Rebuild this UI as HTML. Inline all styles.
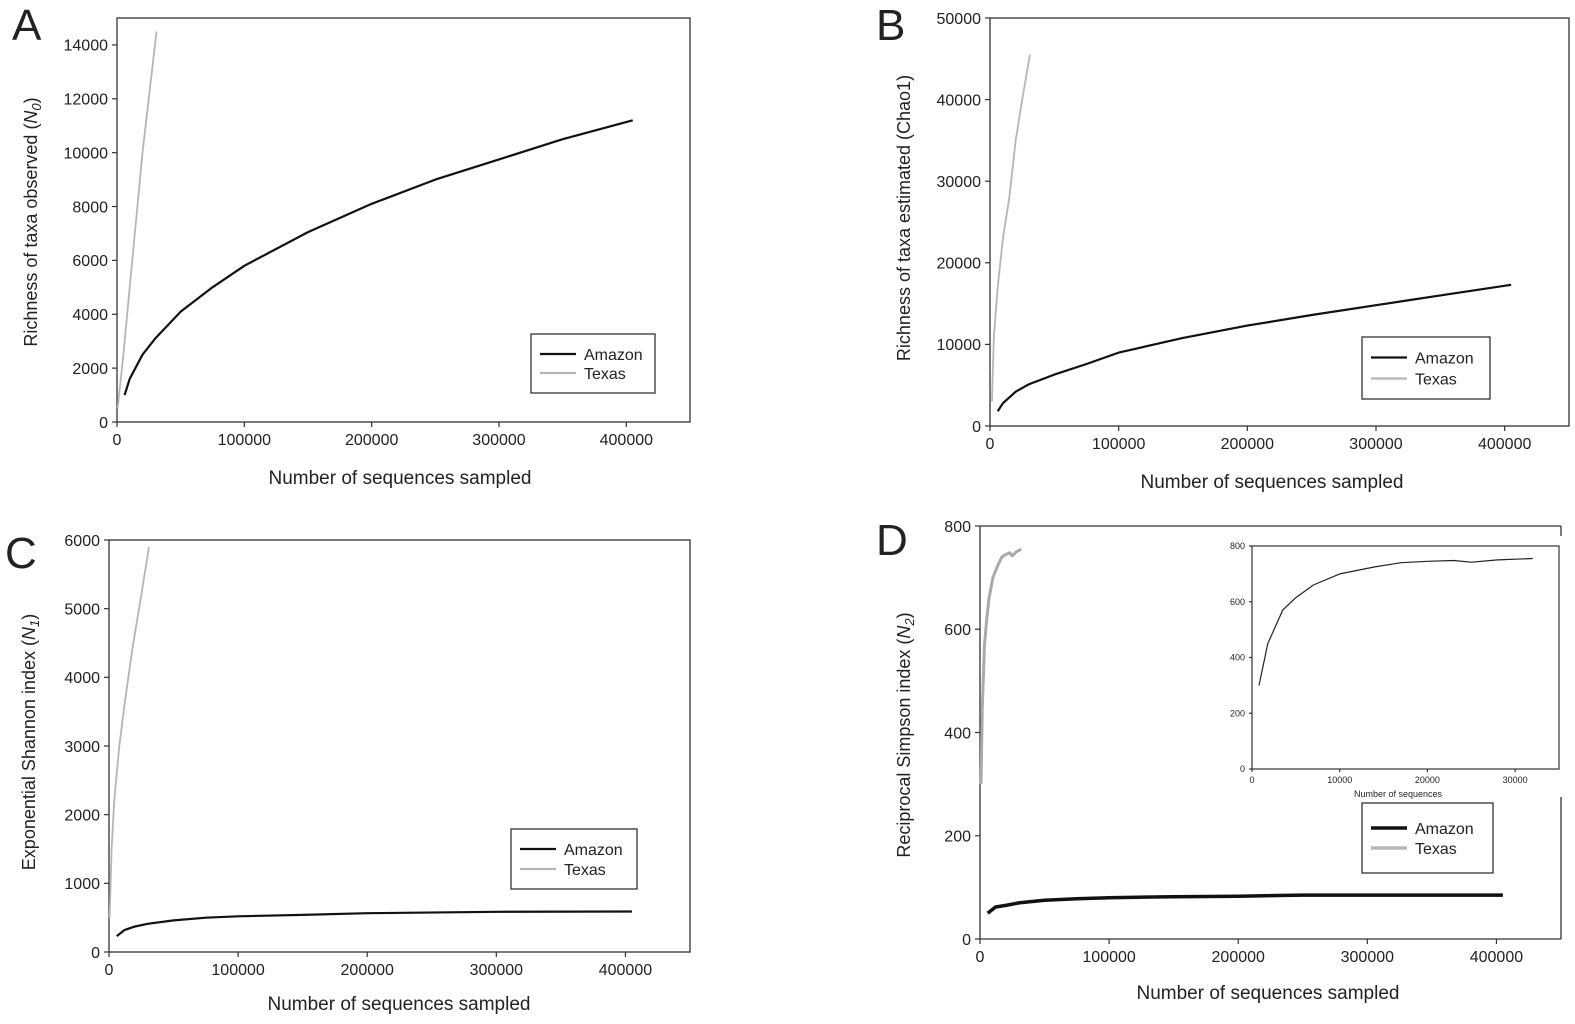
<!DOCTYPE html>
<html><head><meta charset="utf-8"><style>
body{margin:0;background:#fff}
svg{display:block;font-family:"Liberation Sans",sans-serif}
</style></head><body>
<svg id="fig" width="1575" height="1024" viewBox="0 0 1575 1024" xmlns="http://www.w3.org/2000/svg"></svg>
<script>
// ---- data ----
const aAmazonX=[6000,10000,20000,30000,50000,75000,100000,150000,200000,250000,300000,350000,405000];
const aAmazonY=[1000,1600,2500,3100,4100,5000,5800,7050,8100,9000,9750,10500,11200];
const aTexasX=[500,5000,10000,20000,31000];
const aTexasY=[500,2500,5000,10000,14500];
const bAmazonX=[6000,10000,20000,30000,50000,75000,100000,150000,200000,250000,300000,350000,405000];
const bAmazonY=[1800,2800,4200,5100,6300,7600,9000,10800,12300,13600,14800,16000,17300];
const bTexasX=[1500,3000,6000,10000,15000,20000,25000,31000];
const bTexasY=[3000,11000,17000,23000,28000,35000,40000,45500];
const cAmazonX=[6000,12000,20000,30000,50000,75000,100000,150000,200000,300000,405000];
const cAmazonY=[230,320,370,410,460,500,520,540,565,585,590];
const cTexasX=[500,2000,4000,8000,12000,18000,25000,31000];
const cTexasY=[500,1500,2200,3000,3600,4400,5200,5900];
const dAmazonX=[6000,12000,20000,30000,50000,75000,100000,150000,200000,250000,405000];
const dAmazonY=[50,62,65,70,75,78,80,82,83,85,85];
const dTexasX=[800,1800,3500,5000,7000,10000,14000,17000,20000,23000,25000,28000,32000];
const dTexasY=[300,450,570,615,660,700,725,740,745,748,742,750,755];
const xTicksMain=[0,100000,200000,300000,400000];
const aYTicks=[0,2000,4000,6000,8000,10000,12000,14000];
const bYTicks=[0,10000,20000,30000,40000,50000];
const cYTicks=[0,1000,2000,3000,4000,5000,6000];
const dYTicks=[0,200,400,600,800];
const insetXTicks=[0,10000,20000,30000];
const insetYTicks=[0,200,400,600,800];

const NS="http://www.w3.org/2000/svg";
const svg=document.getElementById('fig');
function el(tag,attrs,parent,text){
  const e=document.createElementNS(NS,tag);
  for(const k in attrs)e.setAttribute(k,attrs[k]);
  if(text!==undefined)e.textContent=text;
  (parent||svg).appendChild(e);return e;
}
function panel(o){
  const g=el('g',{},svg);
  
  
  const sx=v=>o.L+(v-o.x0)/(o.x1-o.x0)*(o.R-o.L);
  const sy=v=>o.B-(v-o.y0)/(o.y1-o.y0)*(o.B-o.T);
  if(o.fullFrame){
    const f=el('rect',{x:o.L,y:o.T,width:o.R-o.L,height:o.B-o.T,fill:'none',stroke:'#333','stroke-width':o.fw||1.3},g);
    
    
  } else {
    el('path',{d:`M${o.L},${o.T}H${o.R}M${o.R},${o.T}v10M${o.R},${o.rightFrom}V${o.B}M${o.L},${o.B}H${o.R}M${o.L},${o.T}V${o.B}`,fill:'none',stroke:'#333','stroke-width':1.3},g);
  }
  const fs=o.fs||16, tl=o.tl||5;
  o.xt.forEach(v=>{
    el('line',{x1:sx(v),x2:sx(v),y1:o.B,y2:o.B+tl,stroke:'#333','stroke-width':1.2},g);
    const t=el('text',{x:sx(v),y:o.B+tl+fs+2,'font-size':fs,'text-anchor':'middle',fill:'#222'},g,String(v));
    
    
  });
  o.yt.forEach(v=>{
    el('line',{x1:o.L-tl,x2:o.L,y1:sy(v),y2:sy(v),stroke:'#333','stroke-width':1.2},g);
    const t=el('text',{x:o.L-tl-4,y:sy(v)+fs*0.36,'font-size':fs,'text-anchor':'end',fill:'#222'},g,String(v));
    
    
  });
  o.series.forEach(s=>{
    const d=s.x.map((v,i)=>(i?'L':'M')+sx(v).toFixed(1)+','+sy(s.y[i]).toFixed(1)).join('');
    const p=el('path',{d:d,fill:'none',stroke:s.c,'stroke-width':s.w,'stroke-linejoin':'round'},g);
    
    
  });
  return g;
}
function legend(x,y,w,h,lw,fs,dy){
  const g=el('g',{},svg);
  
  
  el('rect',{x:x,y:y,width:w,height:h,fill:'#fff',stroke:'#333','stroke-width':1.3},g);
  const r1=y+h/2-dy/2, r2=y+h/2+dy/2;
  el('line',{x1:x+9,x2:x+45,y1:r1,y2:r1,stroke:'#111','stroke-width':lw},g);
  el('line',{x1:x+9,x2:x+45,y1:r2,y2:r2,stroke:'#b5b5b5','stroke-width':lw},g);
  const t1=el('text',{x:x+53,y:r1+fs*0.36,'font-size':fs,fill:'#222'},g,'Amazon');
  
  
  const t2=el('text',{x:x+53,y:r2+fs*0.36,'font-size':fs,fill:'#222'},g,'Texas');
  
  
}
function txt(x,y,s,size,name,rot,anchor){
  const t=el('text',{x:x,y:y,'font-size':size,'text-anchor':anchor||'middle',fill:'#222',transform:rot?`rotate(-90 ${x} ${y})`:''},svg);
  t.innerHTML=s;
  
  
  return t;
}

panel({name:'panel-a',L:117,R:690,T:18,B:422,x0:0,x1:450000,y0:0,y1:15000,fullFrame:true,xt:xTicksMain,yt:aYTicks,
  series:[{x:aTexasX,y:aTexasY,c:'#b5b5b5',w:1.8,n:'line-a-texas'},{x:aAmazonX,y:aAmazonY,c:'#111',w:2.2,n:'line-a-amazon'}]});
legend(531,334,124,59,2.2,16,19);
panel({name:'panel-b',L:990,R:1569,T:18,B:426,x0:0,x1:450000,y0:0,y1:50000,fullFrame:true,xt:xTicksMain,yt:bYTicks,
  series:[{x:bTexasX,y:bTexasY,c:'#b5b5b5',w:1.8,n:'line-b-texas'},{x:bAmazonX,y:bAmazonY,c:'#111',w:2.2,n:'line-b-amazon'}]});
legend(1362,337,128,62,2.2,16,21);
panel({name:'panel-c',L:109,R:690,T:540,B:952,x0:0,x1:450000,y0:0,y1:6000,fullFrame:true,xt:xTicksMain,yt:cYTicks,
  series:[{x:cTexasX,y:cTexasY,c:'#b5b5b5',w:1.8,n:'line-c-texas'},{x:cAmazonX,y:cAmazonY,c:'#111',w:2.2,n:'line-c-amazon'}]});
legend(511,829,126,60,2.2,16,20);
panel({name:'panel-d',L:980,R:1561,T:526,B:939,x0:0,x1:450000,y0:0,y1:800,fullFrame:false,rightFrom:797,xt:xTicksMain,yt:dYTicks,
  series:[{x:dTexasX,y:dTexasY,c:'#aaa',w:3,n:'line-d-texas'},{x:dAmazonX,y:dAmazonY,c:'#111',w:3.5,n:'line-d-amazon'}]});
legend(1362,803,131,70,3.5,16,20);
panel({name:'panel-d-inset',L:1252,R:1559,T:546,B:769,x0:0,x1:35000,y0:0,y1:800,fullFrame:true,fw:1.2,fs:9,tl:3,xt:insetXTicks,yt:insetYTicks,
  series:[{x:dTexasX,y:dTexasY,c:'#222',w:1.2,n:'inset-line-texas'}]});
txt(1398,797,'Number of sequences',9,'inset-x-axis-title');

txt(400,484,'Number of sequences sampled',19,'x-axis-title-a');
txt(1272,488,'Number of sequences sampled',19,'x-axis-title-b');
txt(399,1010,'Number of sequences sampled',19,'x-axis-title-c');
txt(1268,999,'Number of sequences sampled',19,'x-axis-title-d');
txt(37,222,'Richness of taxa observed (<tspan font-style="italic">N</tspan><tspan font-style="italic" font-size="13" dy="4">0</tspan><tspan dy="-4">)</tspan>',18,'y-axis-title-a',true);
txt(910,218,'Richness of taxa estimated (Chao1)',18,'y-axis-title-b',true);
txt(35,742,'Exponential Shannon index (<tspan font-style="italic">N</tspan><tspan font-style="italic" font-size="13" dy="4">1</tspan><tspan dy="-4">)</tspan>',18,'y-axis-title-c',true);
txt(910,735,'Reciprocal Simpson index (<tspan font-style="italic">N</tspan><tspan font-style="italic" font-size="13" dy="4">2</tspan><tspan dy="-4">)</tspan>',18,'y-axis-title-d',true);
txt(12,40,'A',44,'panel-letter-a',false,'start');
txt(876,40,'B',44,'panel-letter-b',false,'start');
txt(5,568,'C',44,'panel-letter-c',false,'start');
txt(876,555,'D',44,'panel-letter-d',false,'start');
</script>
</body></html>
